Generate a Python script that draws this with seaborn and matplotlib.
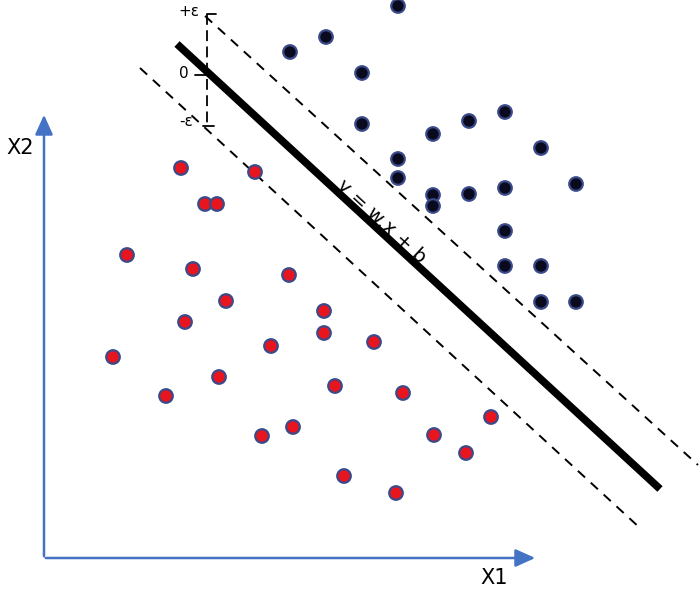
import matplotlib
matplotlib.use("Agg")
import matplotlib.pyplot as plt
import seaborn as sns
import pandas as pd
import numpy as np

sns.set_theme(style="white")
plt.rcParams['font.family'] = ['DejaVu Sans']
plt.rcParams['text.color'] = 'black'

# class A (dark points, above the margin)
dark_x = [398, 290, 326, 362, 362, 433, 469, 505, 541, 398, 398, 433, 433, 469, 505, 576, 505, 505, 541, 541, 576]
dark_y = [6, 52, 37, 73, 124, 134, 121, 112, 148, 159, 178, 195, 206, 194, 188, 184, 231, 266, 266, 302, 302]
# class B (red points, below the margin)
red_x = [181, 255, 205, 217, 127, 193, 289, 226, 185, 324, 324, 271, 374, 113, 219, 335, 166, 403, 293, 262, 434, 491, 466, 344, 396]
red_y = [168, 172, 204, 204, 255, 269, 275, 301, 322, 311, 333, 346, 342, 357, 377, 386, 396, 393, 427, 436, 435, 417, 453, 476, 493]

# hyperplane and margins (endpoints)
line_x = [177, 660]
line_y = [44, 489]
upper_x = [205, 698]
upper_y = [16, 465]
lower_x = [140, 640]
lower_y = [68, 528]

df = pd.DataFrame({
    "x1": dark_x + red_x,
    "x2": dark_y + red_y,
    "cls": ["dark"] * len(dark_x) + ["red"] * len(red_x),
})

fig = plt.figure(figsize=(7, 5.94), dpi=100)
ax = fig.add_axes([0, 0, 1, 1])

ax.plot(upper_x, upper_y, color="black", lw=1.4, ls=(0, (5, 4)))
ax.plot(lower_x, lower_y, color="black", lw=1.4, ls=(0, (5, 4)))
ax.plot(line_x, line_y, color="black", lw=5.5, solid_capstyle="butt")

sns.scatterplot(data=df, x="x1", y="x2", hue="cls",
                palette={"dark": "#0a0a1e", "red": "#e8141e"},
                s=95, edgecolor="#3a4a8a", linewidth=1.6, legend=False, ax=ax, zorder=5)

# epsilon scale
ax.plot([207, 207], [14, 126], color="black", lw=1.3, ls=(0, (6, 3)))
ax.plot([207, 216], [14, 14], color="black", lw=1.3)
ax.plot([195, 207], [75, 75], color="black", lw=1.3)
ax.plot([203, 214], [126, 126], color="black", lw=1.3)
ax.text(189, 12, "+ε", fontsize=11, ha="center", va="center", color="black")
ax.text(184, 74, "0", fontsize=11, ha="center", va="center", color="black")
ax.text(186, 122, "-ε", fontsize=11, ha="center", va="center", color="black")

# axes arrows
blue = "#4472c4"
ax.annotate("", xy=(44, 112), xytext=(44, 559),
            arrowprops=dict(arrowstyle="-|>,head_length=1.0,head_width=0.45", color=blue, lw=1.8))
ax.annotate("", xy=(538, 558), xytext=(43, 558),
            arrowprops=dict(arrowstyle="-|>,head_length=1.0,head_width=0.45", color=blue, lw=1.8))
ax.text(20, 148, "X2", fontsize=15, ha="center", va="center", color="black")
ax.text(494, 578, "X1", fontsize=15, ha="center", va="center", color="black")

ax.text(381, 222, "y = w.x + b", fontsize=14, ha="center", va="center",
        rotation=-42.6, rotation_mode="anchor", color="black")

ax.set_xlim(0, 700)
ax.set_ylim(594, 0)
ax.set_axis_off()
fig.savefig("out.png", dpi=100)
